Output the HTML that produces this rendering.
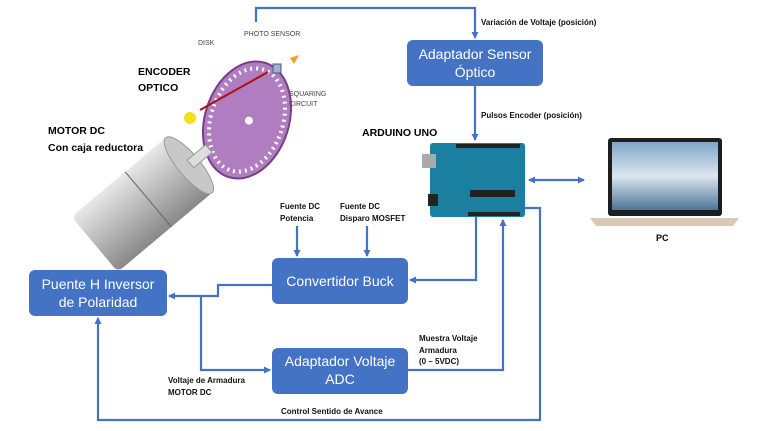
<!DOCTYPE html>
<html><head><meta charset="utf-8"><style>
body{margin:0;width:768px;height:431px;background:#fff;overflow:hidden;font-family:"Liberation Sans",sans-serif;}
svg{position:absolute;left:0;top:0}
.b{font-weight:bold;font-size:8px;fill:#111}
.bt{font-size:14px;fill:#fff;text-anchor:middle}
</style></head><body>
<svg width="768" height="431" viewBox="0 0 768 431">
<defs>
<marker id="a" markerWidth="8" markerHeight="8" refX="6" refY="4" orient="auto" markerUnits="userSpaceOnUse"><path d="M0,0.5 L7,4 L0,7.5 z" fill="#4472c4"/></marker>
<marker id="as" markerWidth="8" markerHeight="8" refX="1" refY="4" orient="auto" markerUnits="userSpaceOnUse"><path d="M7,0.5 L0,4 L7,7.5 z" fill="#4472c4"/></marker>
<linearGradient id="mg" x1="0" y1="0" x2="0" y2="1"><stop offset="0" stop-color="#e8e8e8"/><stop offset=".5" stop-color="#b8b8b8"/><stop offset="1" stop-color="#888"/></linearGradient>
<linearGradient id="sky" x1="0" y1="0" x2="0" y2="1"><stop offset="0" stop-color="#7fa6c8"/><stop offset=".5" stop-color="#dbe6ef"/><stop offset="1" stop-color="#4d7597"/></linearGradient>
</defs>
<g fill="none" stroke="#4472c4" stroke-width="2.2">
<polyline points="256,22 256,8 475,8 475,38" marker-end="url(#a)"/>
<line x1="475" y1="86" x2="475" y2="140" marker-end="url(#a)"/>
<line x1="529" y1="180" x2="584" y2="180" marker-start="url(#as)" marker-end="url(#a)"/>
<polyline points="476,217 476,280 410,280" marker-end="url(#a)"/>
<polyline points="408,370 503,370 503,220" marker-end="url(#a)"/>
<polyline points="525,208 540,208 540,420 98,420 98,318" marker-end="url(#a)"/>
<polyline points="272,285 218,285 218,296 169,296" marker-end="url(#a)"/>
<polyline points="201,296 201,370 270,370" marker-end="url(#a)"/>
<line x1="297" y1="226" x2="297" y2="256" marker-end="url(#a)"/>
<line x1="367" y1="226" x2="367" y2="256" marker-end="url(#a)"/>
</g>
<rect x="407" y="40" width="136" height="46" rx="6" fill="#4472c4"/>
<text class="bt" x="475" y="59">Adaptador Sensor</text><text class="bt" x="475" y="77">Óptico</text>
<rect x="29" y="270" width="138" height="46" rx="6" fill="#4472c4"/>
<text class="bt" x="98" y="289">Puente H Inversor</text><text class="bt" x="98" y="307">de Polaridad</text>
<rect x="272" y="258" width="136" height="46" rx="6" fill="#4472c4"/>
<text class="bt" x="340" y="286">Convertidor Buck</text>
<rect x="272" y="348" width="136" height="46" rx="6" fill="#4472c4"/>
<text class="bt" x="340" y="366">Adaptador Voltaje</text><text class="bt" x="340" y="384">ADC</text>
<text class="b" x="481" y="25">Variación de Voltaje (posición)</text>
<text class="b" x="481" y="118">Pulsos Encoder (posición)</text>
<text x="362" y="136" style="font-weight:bold;font-size:10.5px">ARDUINO UNO</text>
<text x="656" y="241" style="font-weight:bold;font-size:9px">PC</text>
<text class="b" x="280" y="209">Fuente DC</text><text class="b" x="280" y="221">Potencia</text>
<text class="b" x="340" y="209">Fuente DC</text><text class="b" x="340" y="221">Disparo MOSFET</text>
<text class="b" x="419" y="341">Muestra Voltaje</text><text class="b" x="419" y="353">Armadura</text><text class="b" x="419" y="364">(0 – 5VDC)</text>
<text class="b" x="168" y="383">Voltaje de Armadura</text><text class="b" x="168" y="395">MOTOR DC</text>
<text class="b" x="281" y="414">Control Sentido de Avance</text>
<text x="138" y="75" style="font-weight:bold;font-size:10.5px">ENCODER</text><text x="138" y="91" style="font-weight:bold;font-size:10.5px">OPTICO</text>
<text x="48" y="134" style="font-weight:bold;font-size:10.5px">MOTOR DC</text><text x="48" y="151" style="font-size:10.5px;font-weight:bold">Con caja reductora</text>
<!-- disk -->
<g transform="rotate(18 247 120)">
<ellipse cx="247" cy="120" rx="42" ry="60" fill="#b07ec0" stroke="#7a3d8a" stroke-width="2"/>
<ellipse cx="247" cy="120" rx="36" ry="53" fill="none" stroke="#fff" stroke-width="4" stroke-dasharray="2 4"/>
<ellipse cx="249" cy="120" rx="4" ry="4" fill="#fff"/>
</g>
<line x1="200" y1="110" x2="268" y2="72" stroke="#a11" stroke-width="2"/>
<rect x="273" y="64" width="8" height="9" fill="#9bb0d8" stroke="#557"/>
<path d="M290,58 L299,55 L294,64 z" fill="#f0a030"/>
<text x="198" y="45" style="font-size:7px;fill:#444">DISK</text>
<text x="244" y="36" style="font-size:7px;fill:#444">PHOTO SENSOR</text>
<text x="289" y="96" style="font-size:7px;fill:#444">SQUARING</text><text x="289" y="106" style="font-size:7px;fill:#444">CIRCUIT</text>
<ellipse cx="190" cy="118" rx="6" ry="6" fill="#f2e01a"/>
<!-- motor -->
<g transform="rotate(-40 140 205)">
<rect x="80" y="170" width="125" height="72" rx="6" fill="url(#mg)"/>
<line x1="150" y1="170" x2="150" y2="242" stroke="#666"/>
<ellipse cx="203" cy="206" rx="11" ry="36" fill="#c8c8c8" stroke="#999"/>
<rect x="205" y="201" width="24" height="10" fill="#ddd" stroke="#999"/>
</g>
<!-- arduino -->
<rect x="430" y="143" width="95" height="74" rx="3" fill="#1b7fa0"/>
<rect x="422" y="154" width="14" height="14" fill="#aaa"/>
<rect x="428" y="194" width="10" height="12" fill="#222"/>
<rect x="470" y="190" width="45" height="7" fill="#222"/>
<rect x="456" y="144" width="64" height="4" fill="#222"/>
<rect x="468" y="212" width="52" height="4" fill="#222"/>
<!-- laptop -->
<rect x="608" y="138" width="114" height="78" rx="3" fill="#1e1e1e"/>
<rect x="612" y="142" width="106" height="68" fill="url(#sky)"/>
<path d="M590,218 L739,218 L733,226 L596,226 z" fill="#d8c9b4"/>
</svg>
</body></html>
